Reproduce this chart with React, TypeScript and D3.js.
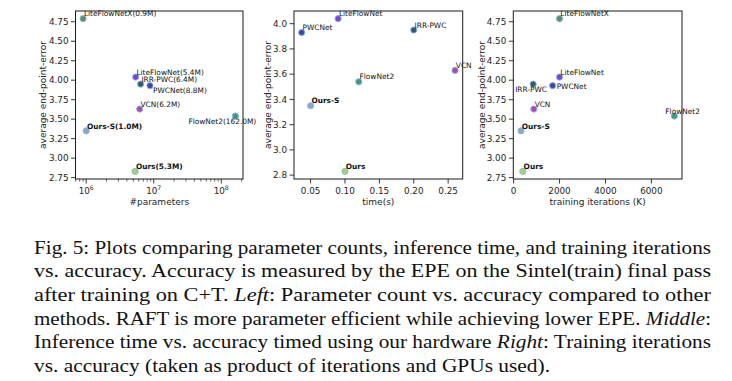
import React from "react";
import * as d3 from "d3";

// ---------- data ----------
const methods = ["LiteFlowNetX", "LiteFlowNet", "IRR-PWC", "PWCNet", "VCN", "FlowNet2", "Ours-S", "Ours"];
const epe = [4.79, 4.04, 3.95, 3.93, 3.63, 3.54, 3.35, 2.83];
const paramsM = [0.9, 5.4, 6.4, 8.8, 6.2, 162.0, 1.0, 5.3];
const timeSec: (number | null)[] = [null, 0.09, 0.2, 0.037, 0.26, 0.12, 0.05, 0.1];
const trainIterK = [2000, 2000, 850, 1700, 880, 7000, 320, 400];
const boldMethods = ["Ours-S", "Ours"];

const epeTicks = [2.75, 3.0, 3.25, 3.5, 3.75, 4.0, 4.25, 4.5, 4.75];
const timeEpeTicks = [2.8, 3.0, 3.2, 3.4, 3.6, 3.8, 4.0];
const paramTicks = [6, 7, 8]; // powers of ten
const timeTicks = [0.05, 0.1, 0.15, 0.2, 0.25];
const iterTicks = [0, 2000, 4000, 6000];

const captionLines: { t: string; i?: boolean }[][] = [
  [{ t: "Fig. 5: Plots comparing parameter counts, inference time, and training iterations" }],
  [{ t: "vs. accuracy. Accuracy is measured by the EPE on the Sintel(train) final pass" }],
  [{ t: "after training on C+T. " }, { t: "Left", i: true }, { t: ": Parameter count vs. accuracy compared to other" }],
  [{ t: "methods. RAFT is more parameter efficient while achieving lower EPE. " }, { t: "Middle", i: true }, { t: ":" }],
  [{ t: "Inference time vs. accuracy timed using our hardware " }, { t: "Right", i: true }, { t: ": Training iterations" }],
  [{ t: "vs. accuracy (taken as product of iterations and GPUs used)." }],
];

// ---------- styles ----------
const methodColors: Record<string, string> = {
  LiteFlowNetX: "#5e8e5a",
  LiteFlowNet: "#7d42d6",
  "IRR-PWC": "#35596f",
  PWCNet: "#4146a6",
  VCN: "#b244b8",
  FlowNet2: "#3f9a7c",
  "Ours-S": "#8fa8c2",
  Ours: "#a4d46a",
};
const edgeColor = "#86b4de";
const FONT = "DejaVu Sans";
const TXT = "#262626";

type Off = Record<string, [number, number]>;
const leftOff: Off = { PWCNet: [3, 7.5], FlowNet2: [-47, 7.5] };
const rightOff: Off = { "IRR-PWC": [-18, 7.7], PWCNet: [4, 3.7], FlowNet2: [-9, -2.5] };

const Y0 = 11, Y1 = 179;

function pad(ext: [number, number]): [number, number] {
  const r = ext[1] - ext[0];
  return [ext[0] - 0.05 * r, ext[1] + 0.05 * r];
}

type PanelProps = {
  x0: number; x1: number;
  xs: (number | null)[];
  log?: boolean;
  xTicks: number[];
  xFmt: (v: number) => React.ReactNode;
  yTicks: number[];
  yFmt: (v: number) => string;
  xLabel: string;
  yLabelOff: number;
  labelFn: (i: number) => string;
  offs: Off;
};

function Panel(p: PanelProps) {
  const idx = methods.map((_, i) => i).filter((i) => p.xs[i] !== null);
  const xv = idx.map((i) => p.xs[i] as number);
  const yv = idx.map((i) => epe[i]);
  const yDom = pad(d3.extent(yv) as [number, number]);
  const y = d3.scaleLinear().domain(yDom).range([Y1, Y0]);
  let x: (v: number) => number;
  let minor: number[] = [];
  if (p.log) {
    const le = pad(d3.extent(xv.map((v) => Math.log10(v * 1e6))) as [number, number]);
    const xs = d3.scaleLog().domain([10 ** le[0], 10 ** le[1]]).range([p.x0, p.x1]);
    x = (v) => xs(v);
    const [a, b] = xs.domain();
    for (let e = 5; e <= 8; e++) for (let k = 2; k <= 9; k++) {
      const v = k * 10 ** e;
      if (v >= a && v <= b) minor.push(v);
    }
  } else {
    const xs = d3.scaleLinear().domain(pad(d3.extent(xv) as [number, number])).range([p.x0, p.x1]);
    x = (v) => xs(v);
  }
  const xm = (v: number) => (p.log ? x(v * 1e6) : x(v));
  const xt = (v: number) => (p.log ? x(10 ** v) : x(v));
  return (
    <g fontFamily={FONT}>
      {p.yTicks.map((t) => (
        <g key={"y" + t}>
          <line x1={p.x0 - 4.5} x2={p.x0} y1={y(t)} y2={y(t)} stroke="#222" strokeWidth={0.9} />
          <text x={p.x0 - 7} y={y(t) + 3.2} fontSize={8.8} textAnchor="end" fill={TXT}>{p.yFmt(t)}</text>
        </g>
      ))}
      {p.xTicks.map((t) => (
        <g key={"x" + t}>
          <line x1={xt(t)} x2={xt(t)} y1={Y1} y2={Y1 + 4.5} stroke="#222" strokeWidth={0.9} />
          <text x={xt(t)} y={193.5} fontSize={8.8} textAnchor="middle" fill={TXT}>{p.xFmt(t)}</text>
        </g>
      ))}
      {minor.map((t) => (
        <line key={"m" + t} x1={x(t)} x2={x(t)} y1={Y1} y2={Y1 + 2.6} stroke="#222" strokeWidth={0.7} />
      ))}
      <text x={(p.x0 + p.x1) / 2} y={204.5} fontSize={9} textAnchor="middle" fill={TXT}>{p.xLabel}</text>
      <text transform={`translate(${p.x0 - p.yLabelOff},${(Y0 + Y1) / 2}) rotate(-90)`} fontSize={9} textAnchor="middle" fill={TXT}>
        average end-point-error
      </text>
      {idx.map((i) => (
        <circle key={"c" + i} cx={xm(p.xs[i] as number)} cy={y(epe[i])} r={3.1}
          fill={methodColors[methods[i]]} stroke={edgeColor} strokeWidth={0.9} />
      ))}
      {idx.map((i) => {
        const o = p.offs[methods[i]] || [0.8, -2.3];
        return (
          <text key={"l" + i} x={xm(p.xs[i] as number) + o[0]} y={y(epe[i]) + o[1]} fontSize={7.4}
            fill="#111" fontWeight={boldMethods.includes(methods[i]) ? "bold" : "normal"}>
            {p.labelFn(i)}
          </text>
        );
      })}
      <rect x={p.x0} y={Y0} width={p.x1 - p.x0} height={Y1 - Y0} fill="none" stroke="#1a1a1a" strokeWidth={1} />
    </g>
  );
}

export default function App() {
  const capX = 34, capW = 677, capY0 = 253.5, capDY = 23.7;
  return (
    <svg width={732} height={381} style={{ position: "absolute", left: 0, top: 0, background: "#fff" }}>
      <rect width={732} height={381} fill="#fff" />
      <Panel x0={75.5} x1={243} xs={paramsM} log xTicks={paramTicks}
        xFmt={(e) => (<>10<tspan fontSize={6.2} dy={-4}>{e}</tspan></>)}
        yTicks={epeTicks} yFmt={(v) => v.toFixed(2)} xLabel="#parameters" yLabelOff={29.5}
        labelFn={(i) => `${methods[i]}(${paramsM[i].toFixed(1)}M)`} offs={leftOff} />
      <Panel x0={294} x1={462.7} xs={timeSec} xTicks={timeTicks}
        xFmt={(v) => v.toFixed(2)} yTicks={timeEpeTicks} yFmt={(v) => v.toFixed(1)} xLabel="time(s)" yLabelOff={23}
        labelFn={(i) => methods[i]} offs={{}} />
      <Panel x0={513.3} x1={682} xs={trainIterK} xTicks={iterTicks}
        xFmt={(v) => String(v)} yTicks={epeTicks} yFmt={(v) => v.toFixed(2)} xLabel="training iterations (K)" yLabelOff={28}
        labelFn={(i) => methods[i]} offs={rightOff} />
      <g fontFamily="Liberation Serif" fontSize={19} fill="#111">
        {captionLines.map((segs, li) => (
          <text key={li} x={capX} y={capY0 + li * capDY}
            textLength={li === captionLines.length - 1 ? 516 : capW} lengthAdjust="spacingAndGlyphs">
            {segs.map((s, k) => (
              <tspan key={k} fontStyle={s.i ? "italic" : "normal"}>{s.t}</tspan>
            ))}
          </text>
        ))}
      </g>
    </svg>
  );
}
